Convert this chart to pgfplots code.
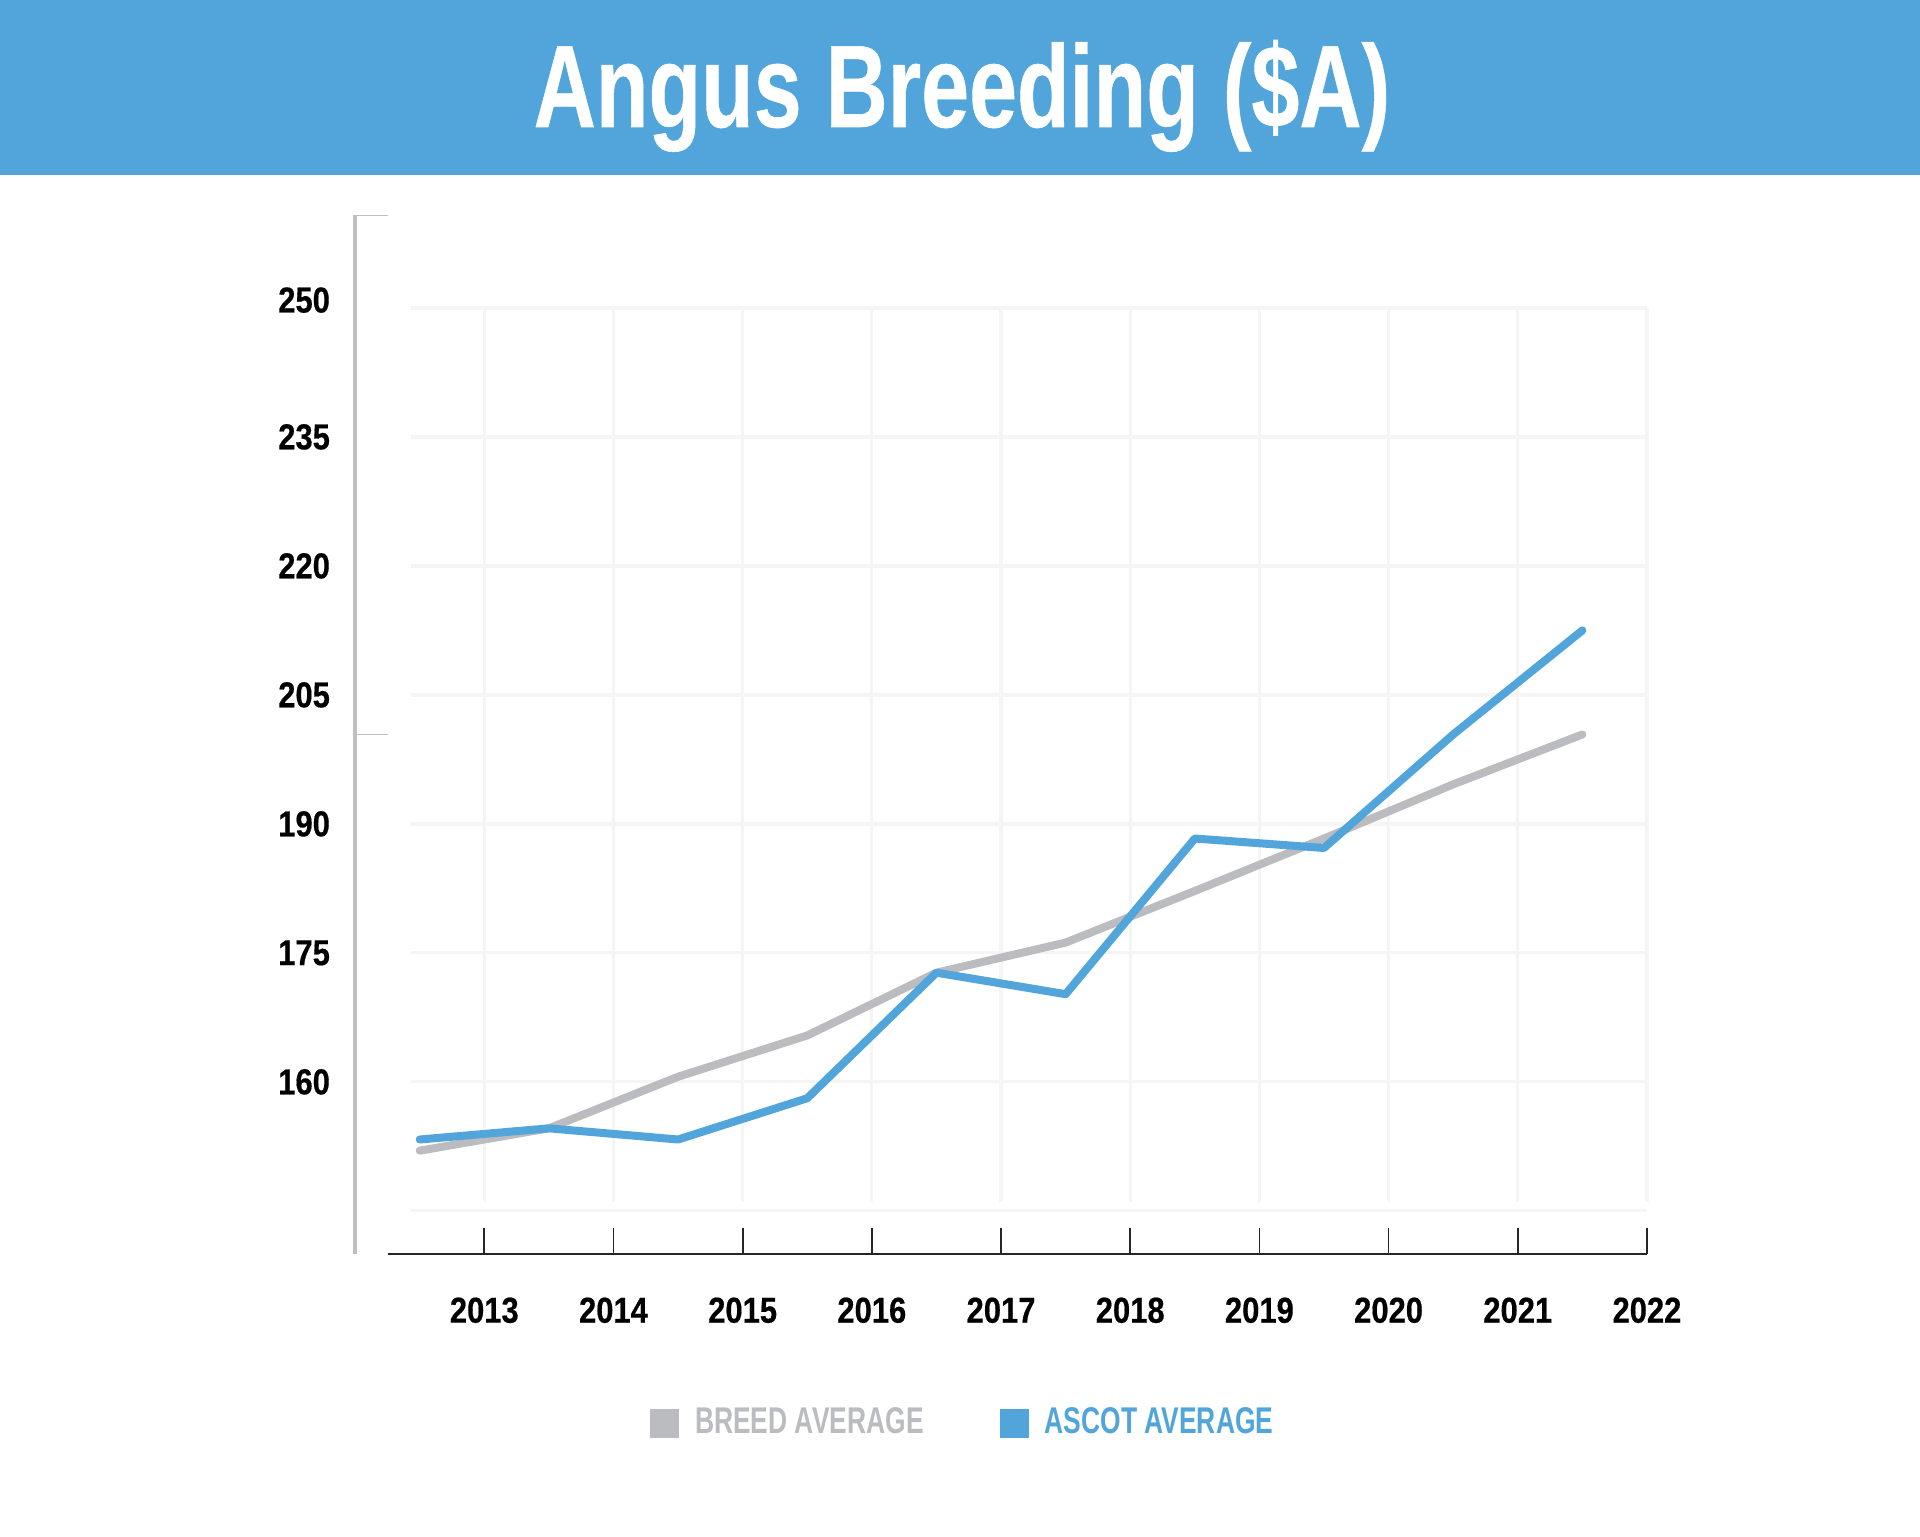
\documentclass[border=0pt]{standalone}
\usepackage{pgfplots}
\pgfplotsset{compat=1.18}
\usepackage{fontspec}
\setmainfont{Liberation Sans}
\newfontfamily\heavy{Liberation Sans Bold}[FakeBold=0.5]
\newfontfamily\medium{Liberation Sans Bold}
\usepackage{graphicx}
\definecolor{ascot}{HTML}{52A5DB}
\definecolor{breed}{HTML}{BBBCBF}
\definecolor{gridc}{HTML}{F5F5F5}
\definecolor{brack}{HTML}{BFBFC3}
\newcommand{\sx}[1]{\scalebox{0.86}[1]{#1}}
\pgfplotstableread{
x y
0.5 152.0
1.5 154.6
2.5 160.6
3.5 165.4
4.5 172.7
5.5 176.2
6.5 182.2
7.5 188.3
8.5 194.6
9.5 200.4
}\breedtab
\pgfplotstableread{
x y
0.5 153.3
1.5 154.6
2.5 153.3
3.5 158.1
4.5 172.7
5.5 170.2
6.5 188.3
7.5 187.2
8.5 200.4
9.5 212.5
}\ascottab
\begin{document}
\begin{tikzpicture}
\useasboundingbox (0,0) rectangle (480pt,384pt);
\fill[white] (0,0) rectangle (480pt,384pt);
\fill[ascot] (0,340.25pt) rectangle (480pt,384pt);
\node[anchor=base, text=white, inner sep=0pt] at (240.5pt,352.25pt)
  {\scalebox{0.735}[1]{\fontsize{29.3}{30}\selectfont\heavy Angus Breeding (\$A)}};
\begin{axis}[
  at={(88.78pt,70.53pt)}, anchor=south west,
  scale only axis, width=322.96pt, height=259.6pt,
  xmin=0, xmax=10, ymin=140, ymax=260.75,
  clip=false,
  axis line style={draw=none},
  xtick={1,...,10},
  xticklabels={\sx{2013},\sx{2014},\sx{2015},\sx{2016},\sx{2017},\sx{2018},\sx{2019},\sx{2020},\sx{2021},\sx{2022}},
  ytick={160,175,190,205,220,235,250},
  yticklabels={\sx{160},\sx{175},\sx{190},\sx{205},\sx{220},\sx{235},\raisebox{4pt}{\sx{250}}},
  xtick pos=left,
  tick align=inside,
  major tick length=6.4pt,
  xtick style={color=black!85, line width=0.45pt},
  ytick style={draw=none},
  xticklabel style={anchor=center, inner sep=0pt, yshift=-14.1pt,
    font=\fontsize{9}{9}\selectfont\heavy, text=black},
  yticklabel style={anchor=east, inner sep=0pt, xshift=-6.1pt,
    font=\fontsize{9}{9}\selectfont\heavy, text=black},
  legend style={at={(0.4695,-0.163)}, anchor=center, draw=none, fill=none,
    legend columns=2, font=\fontsize{9.3}{9.3}\selectfont\medium,
    /tikz/every even column/.append style={column sep=19pt},
    nodes={inner sep=0pt}, inner sep=0pt},
  legend image code/.code={\fill[draw=none] (0pt,-3.65pt) rectangle (7.3pt,3.65pt);
    \path[draw=none, fill=none] (0pt,0pt) -- (11.3pt,0pt);},
]
% grid
\pgfplotsinvokeforeach{145,160,175,190,205,220,235,250}{
  \draw[gridc, line width=0.8pt] (axis cs:0.431,#1) -- (axis cs:10,#1);
}
\pgfplotsinvokeforeach{1,...,10}{
  \draw[gridc, line width=0.8pt] (axis cs:#1,146) -- (axis cs:#1,250);
}
% bracket on left
\draw[brack, line width=1pt] (axis cs:0,260.75) -- (axis cs:0,140);
\draw[brack, line width=0.35pt] (axis cs:0,260.75) -- (axis cs:0.256,260.75);
\draw[brack, line width=0.35pt] (axis cs:0,200.4) -- (axis cs:0.256,200.4);
% bottom axis line
\draw[black!85, line width=0.45pt] (axis cs:0.256,140) -- (axis cs:10,140);
\addplot[color=breed, line width=2pt, line cap=round, line join=round] table[x=x,y=y] {\breedtab};
\addlegendentry{\textcolor{breed}{\scalebox{0.71}[1]{BREED AVERAGE}}}
\addplot[color=ascot, line width=2pt, line cap=round, line join=round] table[x=x,y=y] {\ascottab};
\addlegendentry{\textcolor{ascot}{\scalebox{0.71}[1]{ASCOT AVERAGE}}}
\end{axis}
\end{tikzpicture}
\end{document}
